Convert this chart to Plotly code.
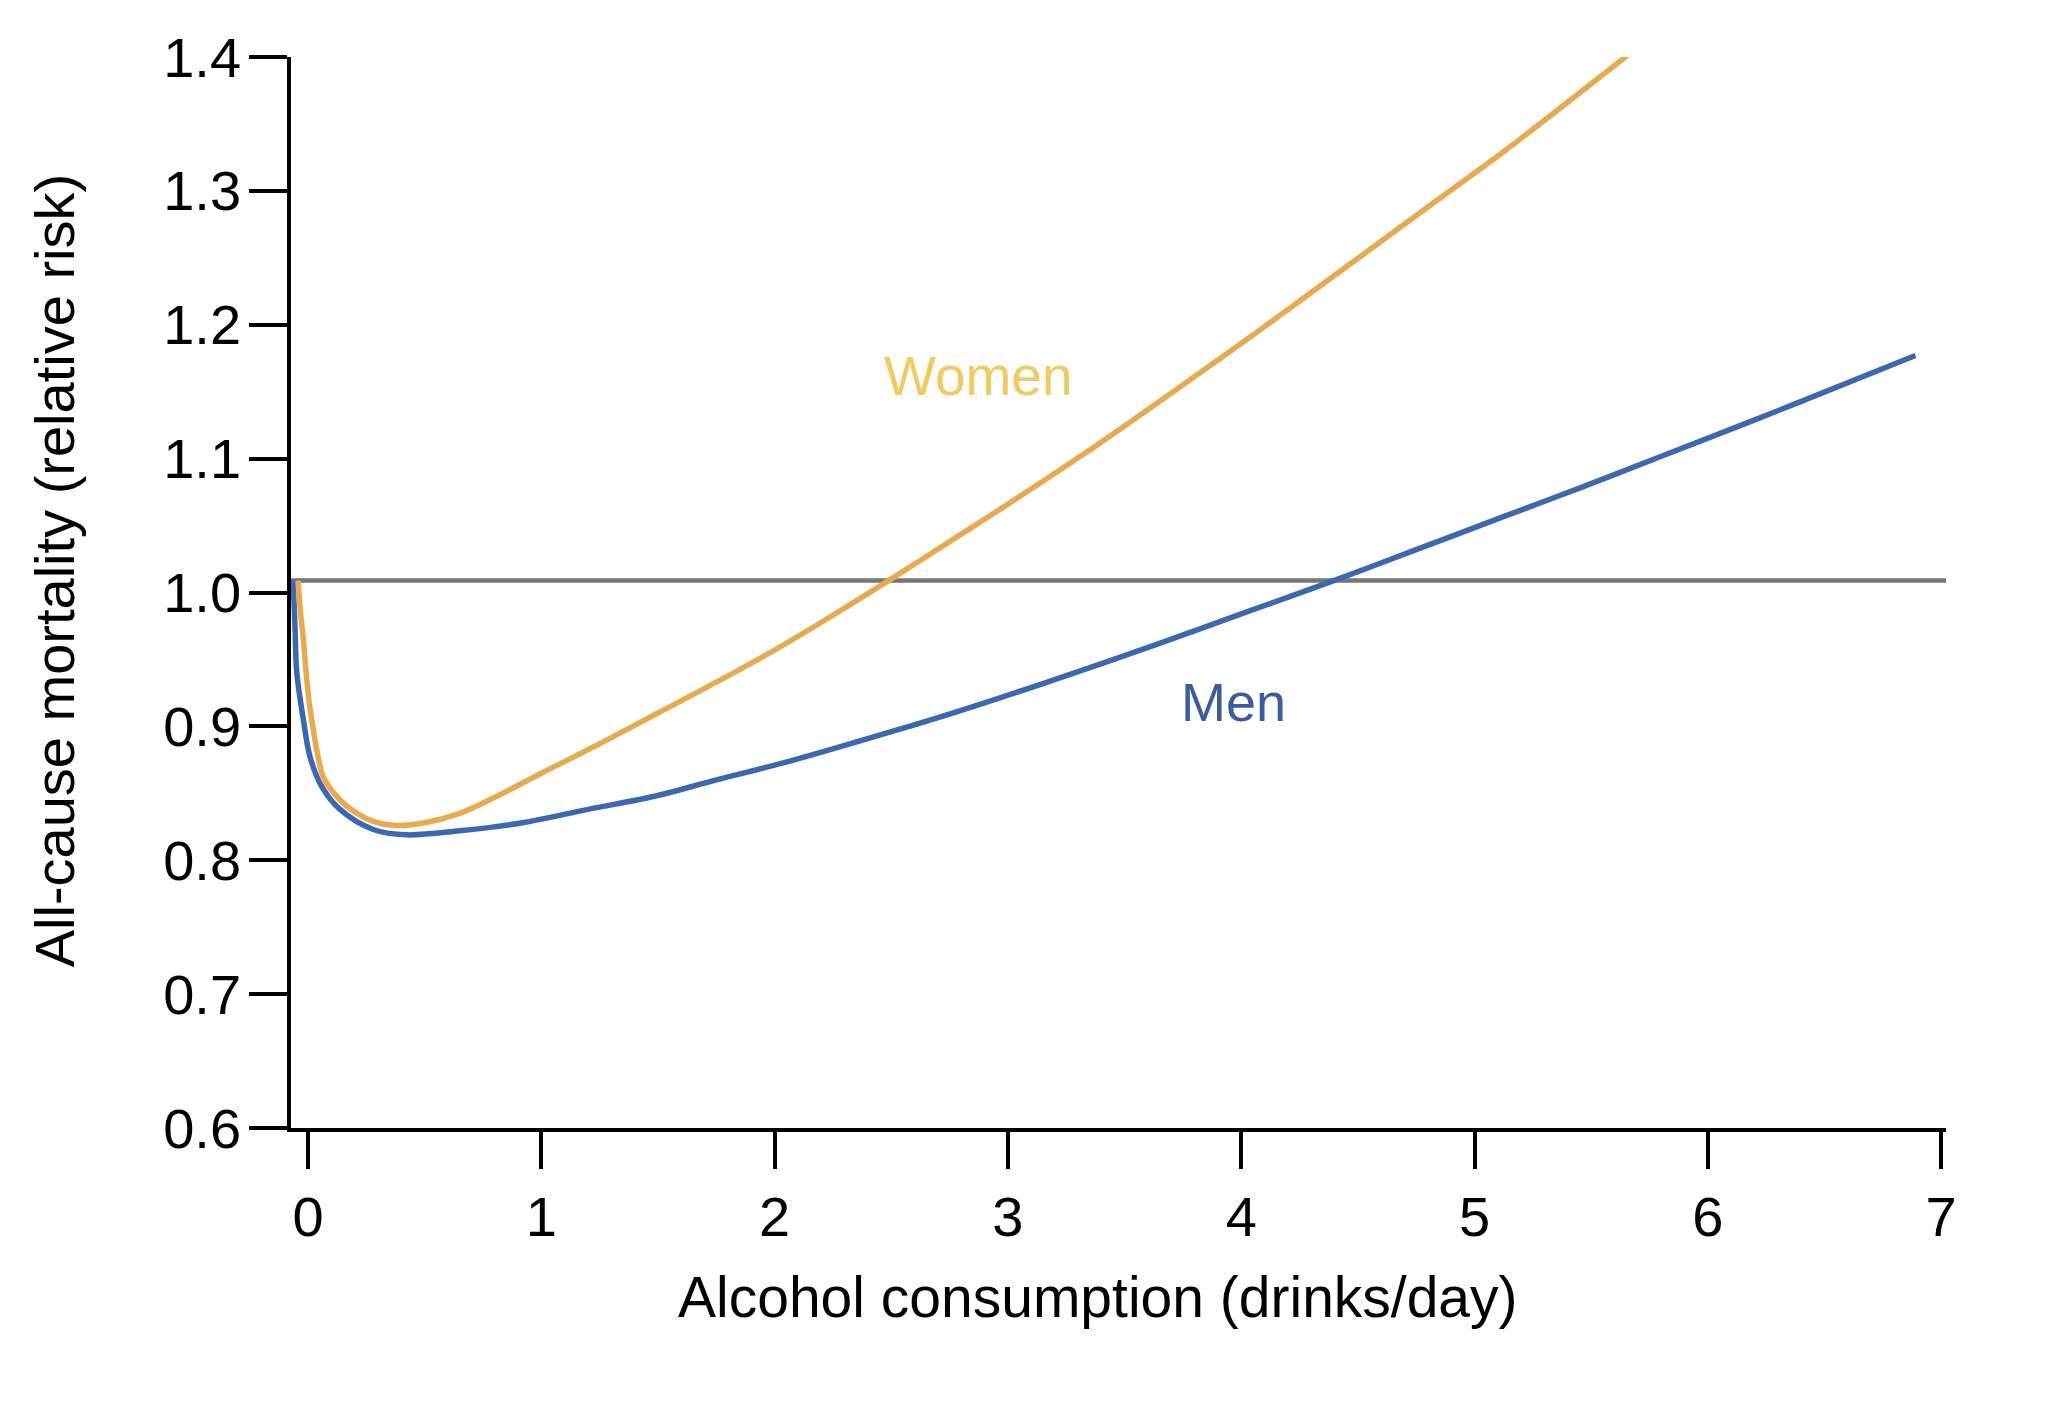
import plotly.graph_objects as go

# ---- data ----
women_x = [-0.043, -0.032, -0.020, -0.008, 0.005, 0.016, 0.040, 0.066, 0.137, 0.210,
           0.280, 0.370, 0.500, 0.650, 0.800, 1.000, 1.250, 1.500, 1.750, 2.000,
           2.250, 2.490, 2.750, 3.000, 3.330, 3.660, 4.000, 4.480, 4.800, 5.130,
           5.420, 5.720]
women_y = [1.009, 0.985, 0.965, 0.940, 0.918, 0.905, 0.880, 0.862, 0.845, 0.835,
           0.829, 0.826, 0.828, 0.835, 0.847, 0.865, 0.887, 0.910, 0.933, 0.957,
           0.983, 1.009, 1.038, 1.066, 1.104, 1.144, 1.186, 1.247, 1.288, 1.330,
           1.369, 1.410]

men_x = [-0.064, -0.056, -0.048, -0.020, 0.009, 0.059, 0.137, 0.280, 0.420, 0.650,
         0.920, 1.200, 1.490, 1.750, 2.065, 2.500, 2.800, 3.150, 3.650, 4.000,
         4.400, 4.750, 5.130, 5.450, 5.790, 6.100, 6.390, 6.890]
men_y = [1.009, 0.975, 0.940, 0.905, 0.877, 0.855, 0.838, 0.823, 0.819, 0.822,
         0.828, 0.838, 0.848, 0.860, 0.874, 0.896, 0.912, 0.932, 0.962, 0.984,
         1.009, 1.032, 1.057, 1.078, 1.101, 1.122, 1.142, 1.177]

reference_level = 1.009
x_ticks = [0, 1, 2, 3, 4, 5, 6, 7]
y_ticks = [0.6, 0.7, 0.8, 0.9, 1.0, 1.1, 1.2, 1.3, 1.4]

labels = {"Women": (2.876, 1.162), "Men": (3.967, 0.918)}

x_title = "Alcohol consumption (drinks/day)"
y_title = "All-cause mortality (relative risk)"

FONT = "Liberation Sans, Arial, Helvetica, sans-serif"
WOMEN_LINE = "#E8AA50"
MEN_LINE = "#3A69B1"
WOMEN_TEXT = "#F0CB62"
MEN_TEXT = "#3D5C9E"

fig = go.Figure()

fig.add_shape(type="line", xref="paper", yref="y", x0=0, x1=1,
              y0=reference_level, y1=reference_level,
              line=dict(color="#767676", width=4.5), layer="below")

fig.add_trace(go.Scatter(x=men_x, y=men_y, mode="lines",
                         line=dict(color=MEN_LINE, width=5.5, shape="spline", smoothing=1.0),
                         showlegend=False, hoverinfo="skip"))
fig.add_trace(go.Scatter(x=women_x, y=women_y, mode="lines",
                         line=dict(color=WOMEN_LINE, width=5.5, shape="spline", smoothing=1.0),
                         showlegend=False, hoverinfo="skip"))

fig.add_annotation(x=labels["Women"][0], y=labels["Women"][1], text="Women",
                   showarrow=False, xanchor="center", yanchor="middle",
                   font=dict(family=FONT, size=55, color=WOMEN_TEXT))
fig.add_annotation(x=labels["Men"][0], y=labels["Men"][1], text="Men",
                   showarrow=False, xanchor="center", yanchor="middle",
                   font=dict(family=FONT, size=54, color=MEN_TEXT))

# axis titles
fig.add_annotation(x=3.388, xref="x", y=0, yref="paper", yanchor="top",
                   yshift=-135, text=x_title, showarrow=False,
                   font=dict(family=FONT, size=57, color="black"))
fig.add_annotation(x=-0.143, xref="paper", y=0.521, yref="paper",
                   xanchor="center", yanchor="middle", textangle=-90,
                   text=y_title, showarrow=False,
                   font=dict(family=FONT, size=56, color="black"))

fig.update_layout(
    width=2048, height=1403,
    margin=dict(l=291, r=102, t=57, b=275),
    paper_bgcolor="white", plot_bgcolor="white",
    font=dict(family=FONT, size=55, color="black"),
    showlegend=False,
)
fig.update_xaxes(range=[-0.073, 7.021], tickvals=x_ticks, ticktext=[str(v) for v in x_ticks],
                 showgrid=False, zeroline=False, showline=True, linecolor="black", linewidth=3.5,
                 ticks="outside", ticklen=37, tickwidth=3.5, tickcolor="black",
                 ticklabelstandoff=0, tickfont=dict(family=FONT, size=56, color="black"))
fig.update_yaxes(range=[0.6, 1.4], tickvals=y_ticks, ticktext=[f"{v:.1f}" for v in y_ticks],
                 showgrid=False, zeroline=False, showline=True, linecolor="black", linewidth=3.5,
                 ticks="outside", ticklen=38, tickwidth=3.5, tickcolor="black",
                 ticklabelstandoff=-3, tickfont=dict(family=FONT, size=56, color="black"))

fig.write_html("out.html")
